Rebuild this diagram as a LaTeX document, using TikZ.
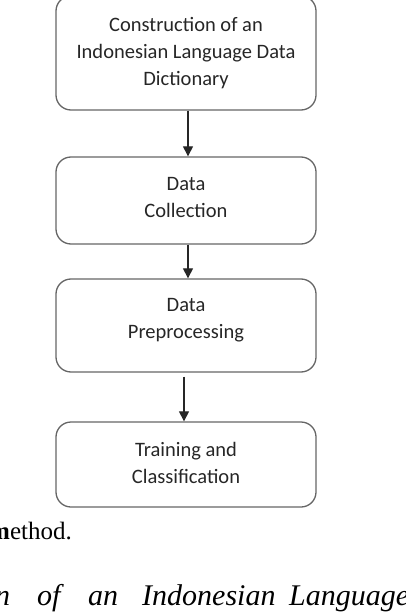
\documentclass[tikz,border=0pt]{standalone}
\usepackage{fontspec}
\setmainfont{Liberation Serif}
\newfontfamily\boxfont{Carlito}
\usetikzlibrary{arrows.meta}
\begin{document}
\begin{tikzpicture}[x=1pt,y=-1pt,
  stepbox/.style={draw=black!60, line width=1.3pt, rounded corners=15pt,
    minimum width=260pt, inner sep=0pt},
  steptext/.style={font=\boxfont\fontsize{20.5}{27}\selectfont, text=black!85, align=center},
  arr/.style={draw=black!85, line width=1.1pt, -{Triangle[width=10pt,length=10pt]}}]
\useasboundingbox (0,0) rectangle (406,612);
\node[stepbox, minimum height=114pt] (b1) at (186,53) {};
\node[stepbox, minimum height=87pt] (b2) at (186,200.5) {};
\node[stepbox, minimum height=93pt] (b3) at (186,325.5) {};
\node[stepbox, minimum height=85pt] (b4) at (186,464.5) {};
\node[steptext] (t1) at (186,53) {Construction of an\\Indonesian Language Data\\Dictionary};
\node[steptext] (t2) at (186,197.5) {Data\\Collection};
\node[steptext] (t3) at (186,320.5) {Data\\Preprocessing};
\node[steptext] (t4) at (186,462.5) {Training and\\Classification};
\draw[arr] ([xshift=2pt]b1.south) -- ([xshift=2pt]b2.north);
\draw[arr] ([xshift=2pt]b2.south) -- ([xshift=2pt]b3.north);
\draw[arr, shorten <=4pt] ([xshift=-2pt]b3.south) -- ([xshift=-2pt]b4.north);
\node[anchor=base west, inner sep=0pt, font=\fontsize{25}{30}\selectfont] (m) at (-11,539) {\textbf{m}ethod.};
\begin{scope}[every node/.style={anchor=base west, inner sep=0pt, font=\itshape\fontsize{30}{34}\selectfont}]
\node (w1) at (-5,605) {n};
\node (w2) at (37,605) {of};
\node (w3) at (88,605) {an};
\node (w4) at (142,605) {Indonesian};
\node (w5) at (289,605) {Language};
\end{scope}
\end{tikzpicture}
\end{document}
